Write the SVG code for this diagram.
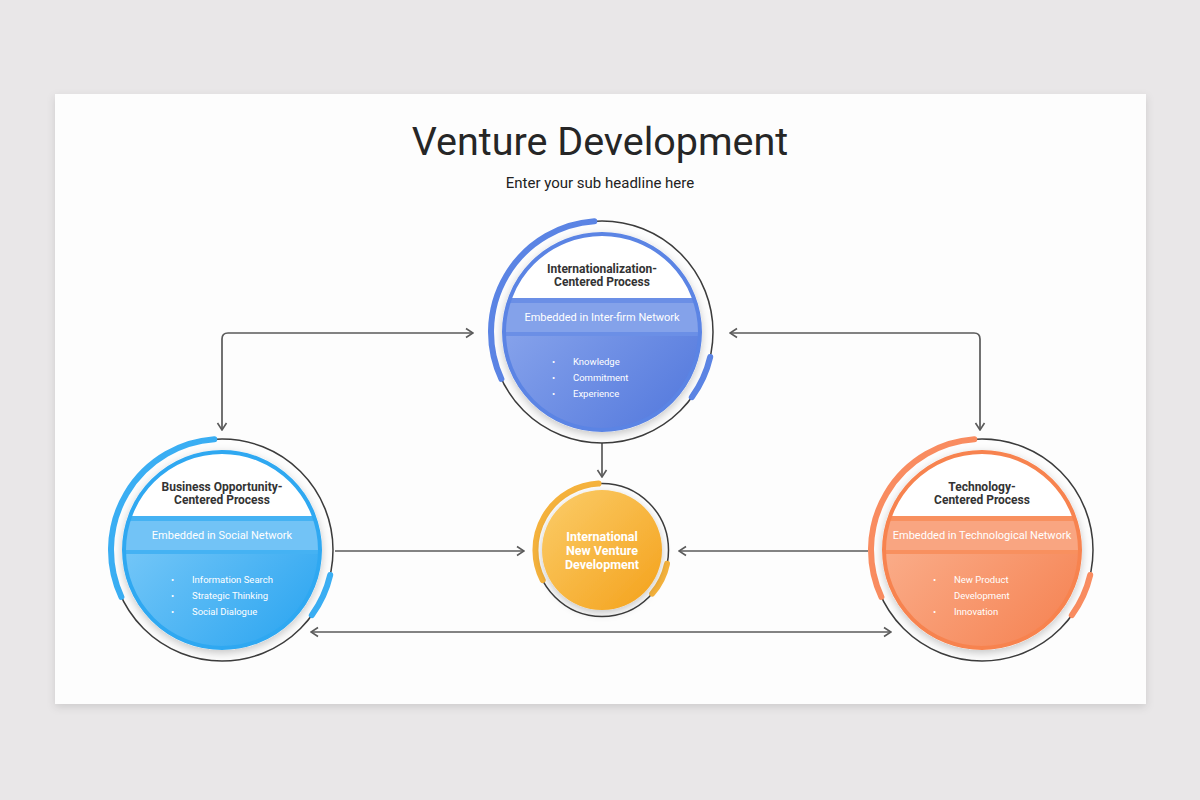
<svg xmlns="http://www.w3.org/2000/svg" width="1200" height="800" viewBox="0 0 1200 800">
<defs>
<style>
.t{font-family:Roboto,"Liberation Sans",sans-serif}
.title{font-size:39.5px;fill:#262626;text-anchor:middle}
.sub{font-size:15px;fill:#222;text-anchor:middle}
.ht{font-size:12px;font-weight:700;fill:#333;text-anchor:middle}
.bt{font-size:11px;fill:#fff;text-anchor:middle}
.li{font-size:9.5px;fill:#fff}
.ct{font-size:12.5px;font-weight:700;fill:#fff;text-anchor:middle}
.ring{fill:none;stroke:#3c3c3c;stroke-width:1.5}
.arc{fill:none;stroke-width:6;stroke-linecap:round}
.con{fill:none;stroke:#5a5a5a;stroke-width:1.7}
</style>
<filter id="card" x="-5%" y="-5%" width="110%" height="115%">
<feDropShadow dx="0" dy="3" stdDeviation="4" flood-color="#000" flood-opacity="0.12"/>
</filter>
<filter id="sh" x="-20%" y="-20%" width="140%" height="150%">
<feDropShadow dx="0" dy="3" stdDeviation="4" flood-color="#000" flood-opacity="0.22"/>
</filter>
<linearGradient id="gBlue" x1="0" y1="0" x2="1" y2="1"><stop offset="0" stop-color="#98b1f0"/><stop offset="1" stop-color="#5076dc"/></linearGradient>
<linearGradient id="gSky" x1="0" y1="0" x2="1" y2="1"><stop offset="0" stop-color="#8dd2fa"/><stop offset="1" stop-color="#27a3f0"/></linearGradient>
<linearGradient id="gOr" x1="0" y1="0" x2="1" y2="1"><stop offset="0" stop-color="#fcbb9c"/><stop offset="1" stop-color="#f5804f"/></linearGradient>
<linearGradient id="gYe" x1="0" y1="0" x2="1" y2="1"><stop offset="0" stop-color="#fbcd6a"/><stop offset="1" stop-color="#f4a11a"/></linearGradient>
<clipPath id="cTop"><circle cx="602" cy="332" r="98"/></clipPath>
<clipPath id="cLeft"><circle cx="222" cy="550" r="98"/></clipPath>
<clipPath id="cRight"><circle cx="982" cy="550" r="98"/></clipPath>
<marker id="ah" viewBox="-9 -6 10 12" refX="0" refY="0" markerWidth="10" markerHeight="12" markerUnits="userSpaceOnUse" orient="auto-start-reverse">
<path d="M-7,-4.5 L0,0 L-7,4.5" fill="none" stroke="#5a5a5a" stroke-width="1.6"/>
</marker>
</defs>
<rect width="1200" height="800" fill="#e9e7e8"/>
<rect x="55" y="94" width="1091" height="610" fill="#fdfdfd" filter="url(#card)"/>
<text class="t title" x="600" y="155">Venture Development</text>
<text class="t sub" x="600" y="188">Enter your sub headline here</text>

<g id="connectors">
<path class="con" d="M222,430 V339 Q222,333 228,333 H473" marker-start="url(#ah)" marker-end="url(#ah)"/>
<path class="con" d="M980,430 V339 Q980,333 974,333 H730" marker-start="url(#ah)" marker-end="url(#ah)"/>
<path class="con" d="M335,551 H524" marker-end="url(#ah)"/>
<path class="con" d="M868,551 H679" marker-end="url(#ah)"/>
<path class="con" d="M311,632 H891" marker-start="url(#ah)" marker-end="url(#ah)"/>
<path class="con" d="M602,443 V477" marker-end="url(#ah)"/>
</g>

<g id="node-internationalization">
<circle class="ring" cx="602" cy="332" r="111"/>
<path class="arc" stroke="#5b84e4" d="M501.4,378.9 A111,111 0 0 1 594.3,221.3"/>
<path class="arc" stroke="#5b84e4" d="M710.2,357 A111,111 0 0 1 691.8,397.2"/>
<circle cx="602" cy="332" r="100" fill="#fff" filter="url(#sh)"/>
<g clip-path="url(#cTop)">
<circle cx="602" cy="332" r="98" fill="url(#gBlue)"/>
<rect x="500" y="230" width="204" height="68" fill="#fff"/>
<rect x="500" y="298" width="204" height="5" fill="#6b8fe6"/>
<rect x="500" y="303" width="204" height="29" fill="#84a2ea"/>
<rect x="500" y="332" width="204" height="4" fill="#6b8fe6"/>
</g>
<circle cx="602" cy="332" r="98" fill="none" stroke="#5b84e4" stroke-width="4"/>
<text class="t ht" x="602" y="273">Internationalization-</text>
<text class="t ht" x="602" y="286">Centered Process</text>
<text class="t bt" x="602" y="321">Embedded in Inter-firm Network</text>
<text class="t li" x="552" y="365">•</text><text class="t li" x="573" y="365">Knowledge</text>
<text class="t li" x="552" y="381">•</text><text class="t li" x="573" y="381">Commitment</text>
<text class="t li" x="552" y="397">•</text><text class="t li" x="573" y="397">Experience</text>
</g>

<g id="node-business">
<circle class="ring" cx="222" cy="550" r="111"/>
<path class="arc" stroke="#3aaef3" d="M121.4,596.9 A111,111 0 0 1 214.3,439.3"/>
<path class="arc" stroke="#3aaef3" d="M330.2,575 A111,111 0 0 1 311.8,615.2"/>
<circle cx="222" cy="550" r="100" fill="#fff" filter="url(#sh)"/>
<g clip-path="url(#cLeft)">
<circle cx="222" cy="550" r="98" fill="url(#gSky)"/>
<rect x="120" y="448" width="204" height="68" fill="#fff"/>
<rect x="120" y="516" width="204" height="5" fill="#45b2f3"/>
<rect x="120" y="521" width="204" height="29" fill="#72c3f6"/>
<rect x="120" y="550" width="204" height="4" fill="#45b2f3"/>
</g>
<circle cx="222" cy="550" r="98" fill="none" stroke="#2fa8f1" stroke-width="4"/>
<text class="t ht" x="222" y="491">Business Opportunity-</text>
<text class="t ht" x="222" y="504">Centered Process</text>
<text class="t bt" x="222" y="539">Embedded in Social Network</text>
<text class="t li" x="171" y="583">•</text><text class="t li" x="192" y="583">Information Search</text>
<text class="t li" x="171" y="599">•</text><text class="t li" x="192" y="599">Strategic Thinking</text>
<text class="t li" x="171" y="615">•</text><text class="t li" x="192" y="615">Social Dialogue</text>
</g>

<g id="node-technology">
<circle class="ring" cx="982" cy="550" r="111"/>
<path class="arc" stroke="#f98c60" d="M881.4,596.9 A111,111 0 0 1 974.3,439.3"/>
<path class="arc" stroke="#f98c60" d="M1090.2,575 A111,111 0 0 1 1071.8,615.2"/>
<circle cx="982" cy="550" r="100" fill="#fff" filter="url(#sh)"/>
<g clip-path="url(#cRight)">
<circle cx="982" cy="550" r="98" fill="url(#gOr)"/>
<rect x="880" y="448" width="204" height="68" fill="#fff"/>
<rect x="880" y="516" width="204" height="5" fill="#f8905f"/>
<rect x="880" y="521" width="204" height="29" fill="#f9a581"/>
<rect x="880" y="550" width="204" height="4" fill="#f8905f"/>
</g>
<circle cx="982" cy="550" r="98" fill="none" stroke="#f7834f" stroke-width="4"/>
<text class="t ht" x="982" y="491">Technology-</text>
<text class="t ht" x="982" y="504">Centered Process</text>
<text class="t bt" x="982" y="539">Embedded in Technological Network</text>
<text class="t li" x="933" y="583">•</text><text class="t li" x="954" y="583">New Product</text>
<text class="t li" x="954" y="599">Development</text>
<text class="t li" x="933" y="615">•</text><text class="t li" x="954" y="615">Innovation</text>
</g>

<g id="node-inv">
<circle class="ring" cx="602" cy="550" r="66.5"/>
<path class="arc" stroke="#f5b23c" stroke-width="5" d="M542.7,580.2 A66.5,66.5 0 0 1 598.5,483.6"/>
<path class="arc" stroke="#f5b23c" stroke-width="5" d="M667,563.8 A66.5,66.5 0 0 1 652.2,593.6"/>
<circle cx="602" cy="550" r="60" fill="url(#gYe)" filter="url(#sh)"/>
<text class="t ct" x="602" y="541">International</text>
<text class="t ct" x="602" y="555">New Venture</text>
<text class="t ct" x="602" y="569">Development</text>
</g>
</svg>
